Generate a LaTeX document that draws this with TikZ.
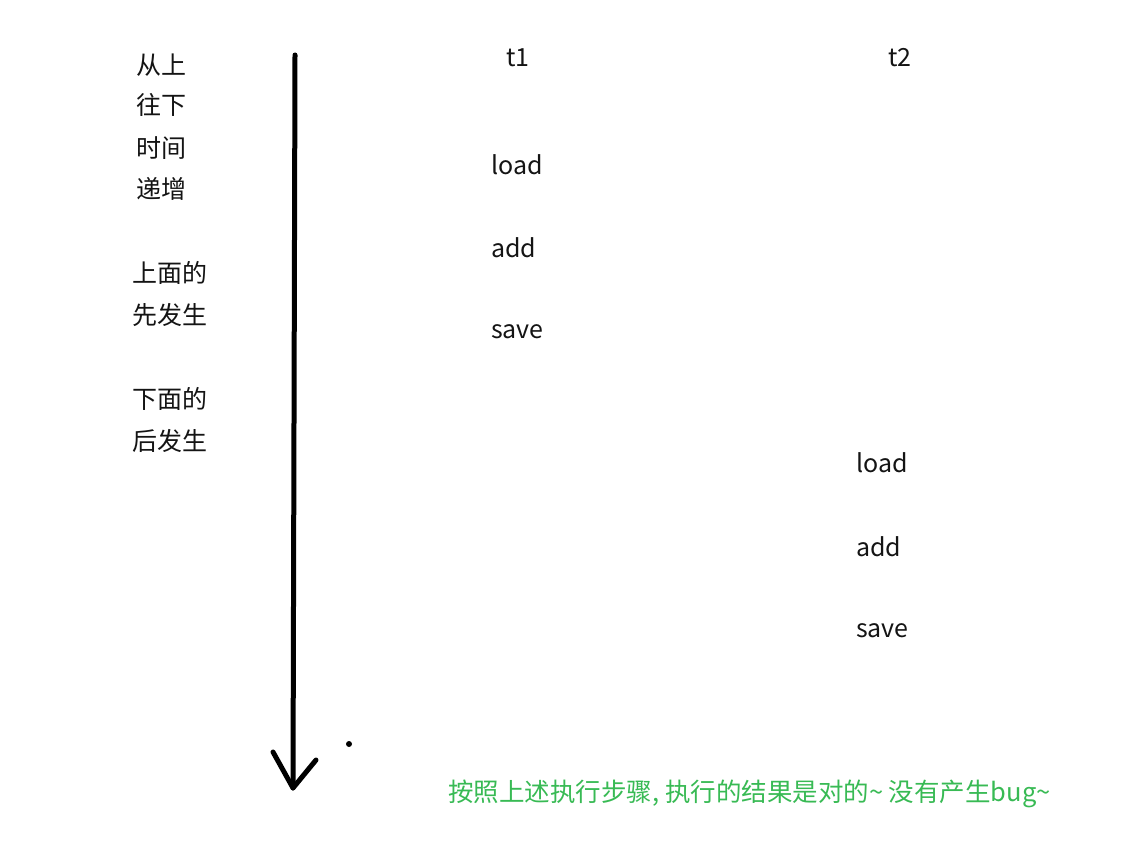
\documentclass[tikz,border=0pt]{standalone}
\usepackage{fontspec}
\setmainfont{Noto Sans CJK SC}
\definecolor{notegreen}{RGB}{56,186,84}
\definecolor{txt}{RGB}{20,20,20}
\begin{document}
\begin{tikzpicture}[x=1pt,y=-1pt,
  lbl/.style={font=\fontsize{25}{29}\selectfont, text=txt, inner sep=0pt},
  side/.style={font=\fontsize{25}{29}\selectfont, text=txt, inner sep=0pt, anchor=west},
  pen/.style={line width=5pt, line cap=round, line join=round}]
\useasboundingbox (0,0) rectangle (1131,858);
% time arrow
\coordinate (top) at (295,55);
\coordinate (tip) at (293,788);
\coordinate (hl) at (273,752);
\coordinate (hr) at (316,760);
\draw[pen] (top) -- (tip);
\draw[pen] (hl) -- (tip) -- (hr);
\fill (349,744) circle (3);
% left notes
\node[side] (n1) at (136,65) {从上};
\node[side] (n2) at (136,105) {往下};
\node[side] (n3) at (136,148) {时间};
\node[side] (n4) at (136,189) {递增};
\node[side] (n5) at (132,273) {上面的};
\node[side] (n6) at (132,315) {先发生};
\node[side] (n7) at (132,399) {下面的};
\node[side] (n8) at (132,441) {后发生};
% threads
\node[lbl] (t1) at (518,58) {t1};
\node[lbl] (t2) at (900,58) {t2};
\node[side] (l1) at (491,165) {load};
\node[side] (a1) at (491,248) {add};
\node[side] (s1) at (491,332) {save};
\node[side] (l2) at (856,463) {load};
\node[side] (a2) at (856,547) {add};
\node[side] (s2) at (856,631) {save};
% note
\node[side, text=notegreen, font=\fontsize{25.5}{29}\selectfont] (note) at (448,794) {按照上述执行步骤, 执行的结果是对的\textasciitilde{} 没有产生bug\textasciitilde};
\end{tikzpicture}
\end{document}
